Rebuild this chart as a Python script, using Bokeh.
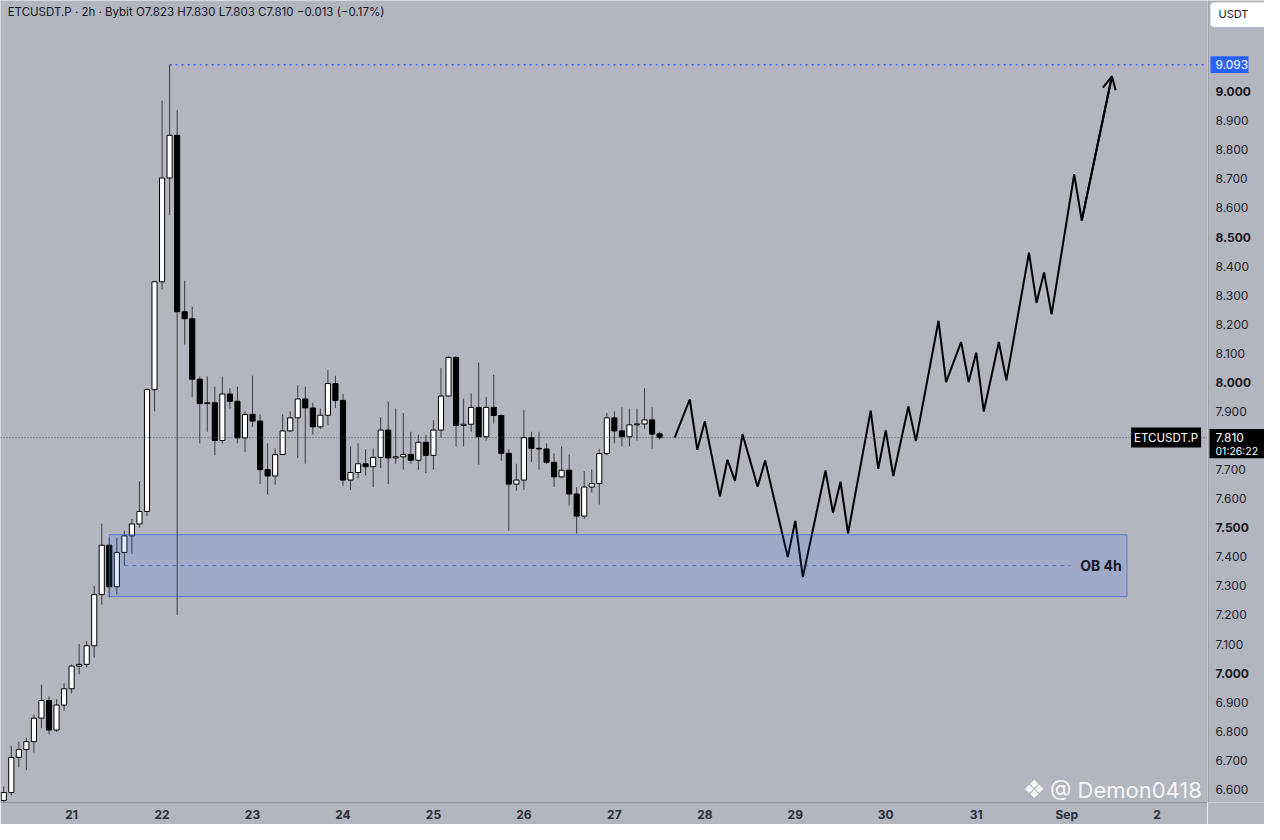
from bokeh.plotting import figure
from bokeh.layouts import row
from bokeh.models import (Range1d, LinearAxis, FixedTicker, Span, BoxAnnotation,
                          Label, Arrow, OpenHead, ColumnDataSource)
from bokeh.core.properties import value
from bokeh.embed import file_html
from bokeh.resources import INLINE

BG = "#b3b6bf"
TXT = "#131722"
FONT = "Inter"

# ---------------- data ----------------
day_ticks = [9, 21, 33, 45, 57, 69, 81, 93, 105, 117, 129, 141, 153]
day_labels = ["21", "22", "23", "24", "25", "26", "27", "28", "29", "30", "31", "Sep", "2"]

price_ticks = [6.6, 6.7, 6.8, 6.9, 7.1, 7.2, 7.3, 7.4, 7.6, 7.7, 7.8, 7.9,
               8.1, 8.2, 8.3, 8.4, 8.6, 8.7, 8.8, 8.9]
bold_ticks = [7.0, 7.5, 8.0, 8.5, 9.0]

opens = [6.562, 6.589, 6.710, 6.737, 6.764, 6.845, 6.906, 6.804, 6.890, 6.946,
         7.024, 7.030, 7.094, 7.270, 7.440, 7.297, 7.415, 7.472, 7.513, 7.556,
         7.975, 8.346, 8.703, 8.850, 8.243, 8.219, 8.011, 7.927, 7.930, 7.800,
         7.960, 7.935, 7.809, 7.890, 7.867, 7.700, 7.678, 7.752, 7.833, 7.878,
         7.943, 7.912, 7.847, 7.887, 7.996, 7.938, 7.664, 7.690, 7.720, 7.710,
         7.742, 7.836, 7.740, 7.744, 7.752, 7.732, 7.794, 7.749, 7.836, 7.953,
         8.086, 7.852, 7.856, 7.914, 7.813, 7.914, 7.886, 7.756, 7.650, 7.664,
         7.810, 7.773, 7.771, 7.725, 7.675, 7.698, 7.616, 7.540, 7.640, 7.652,
         7.755, 7.878, 7.833, 7.813, 7.854, 7.857, 7.871, 7.823]
highs = [6.610, 6.750, 6.764, 6.777, 6.858, 6.960, 6.920, 6.910, 6.965, 7.030,
         7.100, 7.110, 7.300, 7.514, 7.465, 7.465, 7.490, 7.530, 7.660, 7.980,
         8.350, 8.970, 9.093, 8.936, 8.350, 8.260, 8.020, 8.020, 7.985, 8.020,
         7.980, 7.985, 7.900, 8.023, 7.890, 7.790, 7.773, 7.890, 7.900, 7.990,
         7.985, 7.930, 7.910, 8.043, 8.023, 7.960, 7.780, 7.790, 7.770, 7.773,
         7.880, 7.934, 7.910, 7.895, 7.830, 7.820, 7.820, 7.870, 8.049, 8.090,
         8.090, 7.944, 7.962, 8.068, 7.950, 8.026, 7.890, 7.770, 7.720, 7.904,
         7.830, 7.830, 7.790, 7.756, 7.780, 7.752, 7.640, 7.695, 7.700, 7.770,
         7.895, 7.900, 7.914, 7.910, 7.910, 7.980, 7.914, 7.830]
lows = [6.555, 6.580, 6.676, 6.666, 6.727, 6.810, 6.790, 6.798, 6.870, 6.930,
        6.996, 7.020, 7.054, 7.236, 7.260, 7.270, 7.370, 7.410, 7.500, 7.540,
        7.900, 8.320, 8.575, 7.200, 8.130, 7.950, 7.790, 7.830, 7.750, 7.790,
        7.910, 7.790, 7.760, 7.847, 7.650, 7.614, 7.648, 7.750, 7.830, 7.740,
        7.720, 7.820, 7.840, 7.853, 7.912, 7.644, 7.630, 7.670, 7.680, 7.640,
        7.705, 7.650, 7.720, 7.700, 7.720, 7.700, 7.688, 7.700, 7.810, 7.950,
        7.780, 7.780, 7.830, 7.717, 7.800, 7.858, 7.730, 7.490, 7.627, 7.630,
        7.726, 7.700, 7.720, 7.640, 7.670, 7.577, 7.480, 7.530, 7.620, 7.580,
        7.750, 7.790, 7.780, 7.780, 7.800, 7.840, 7.772, 7.803]
closes = [6.589, 6.710, 6.737, 6.764, 6.845, 6.906, 6.804, 6.890, 6.946, 7.024,
          7.030, 7.094, 7.270, 7.440, 7.297, 7.415, 7.472, 7.513, 7.556, 7.975,
          8.346, 8.703, 8.850, 8.243, 8.219, 8.011, 7.927, 7.930, 7.800, 7.960,
          7.935, 7.809, 7.890, 7.867, 7.700, 7.678, 7.752, 7.833, 7.878, 7.943,
          7.912, 7.847, 7.887, 7.996, 7.938, 7.664, 7.690, 7.720, 7.710, 7.742,
          7.836, 7.740, 7.744, 7.752, 7.732, 7.794, 7.749, 7.836, 7.953, 8.086,
          7.852, 7.856, 7.914, 7.813, 7.914, 7.886, 7.756, 7.650, 7.664, 7.810,
          7.773, 7.771, 7.725, 7.675, 7.698, 7.616, 7.540, 7.640, 7.652, 7.755,
          7.878, 7.833, 7.813, 7.854, 7.857, 7.871, 7.822, 7.810]

# projected path (candle index, price)
path_x = [89, 91, 92, 93, 95, 96, 97, 98, 100, 101, 104, 105, 106, 109, 110, 111,
          112, 115, 116, 117, 118, 120, 121, 124, 125, 127, 128, 129, 130, 132,
          133, 136, 137, 138, 139, 142, 143, 147]
path_y = [7.810, 7.942, 7.768, 7.866, 7.608, 7.734, 7.661, 7.822, 7.641, 7.731,
          7.399, 7.524, 7.330, 7.697, 7.551, 7.658, 7.481, 7.903, 7.703, 7.835,
          7.678, 7.917, 7.798, 8.212, 8.001, 8.139, 8.001, 8.102, 7.900, 8.139,
          8.007, 8.446, 8.274, 8.378, 8.234, 8.716, 8.557, 9.053]

ob_start, ob_end = 14, 149
ob_top, ob_bottom = 7.476, 7.263
ob_mid_start, ob_mid_end = 16, 141.5

title_text = "ETCUSDT.P · 2h · Bybit  O7.823  H7.830  L7.803  C7.810  \u22120.013 (\u22120.17%)"
symbol = "ETCUSDT.P"
countdown = "01:26:22"
currency = "USDT"
watermark = "@ Demon0418"

# ---------------- layout constants ----------------
W_MAIN, W_SCALE, H = 1207, 57, 824
BOTTOM = 22
X0, X1 = -0.432, 159.68
Y0, Y1 = 6.5548, 9.3137
PXU = W_MAIN / (X1 - X0)            # pixels per candle index
XS1 = X1 + W_SCALE / PXU            # end of price-scale range (continuous with chart)
yr = Range1d(Y0, Y1)

# ---------------- main chart ----------------
p = figure(width=W_MAIN, height=H, x_range=Range1d(X0, X1), y_range=yr,
           output_backend="svg", toolbar_location=None,
           x_axis_location=None, y_axis_location=None,
           min_border_left=0, min_border_top=0, min_border_right=0, min_border_bottom=BOTTOM,
           background_fill_color=BG, border_fill_color=BG, outline_line_color=None)
p.grid.visible = False

xaxis = LinearAxis(ticker=FixedTicker(ticks=day_ticks),
                   major_label_overrides={t: l for t, l in zip(day_ticks, day_labels)})
xaxis.major_tick_out = 0
xaxis.major_tick_in = 0
xaxis.minor_tick_out = 0
xaxis.minor_tick_in = 0
xaxis.major_label_standoff = 4
xaxis.major_label_text_font = FONT
xaxis.major_label_text_font_size = "12px"
xaxis.major_label_text_font_style = "bold"
xaxis.major_label_text_color = "#2a2e39"
xaxis.axis_line_color = "#8c9099"
p.add_layout(xaxis, "below")

# order block
p.add_layout(BoxAnnotation(left=ob_start, right=ob_end, bottom=ob_bottom, top=ob_top,
                           fill_color="#2962ff", fill_alpha=0.14,
                           line_color="#3d5fd6", line_alpha=0.7, line_width=1))
ob_mid = (ob_top + ob_bottom) / 2
p.segment(x0=[ob_mid_start], y0=[ob_mid], x1=[ob_mid_end], y1=[ob_mid],
          line_color="#3d5fd6", line_alpha=0.7, line_width=1, line_dash="4 4")
p.add_layout(Label(x=ob_end - 0.7, y=ob_mid, text="OB 4h", text_align="right",
                   text_baseline="middle", text_font=FONT, text_font_size="14px",
                   text_font_style="bold", text_color=TXT))

# last price line
last = closes[-1]
p.add_layout(Span(location=last, dimension="width", line_color="#4a4e58",
                  line_dash="1 2", line_width=1))

# high line
hi = max(highs)
hi_idx = highs.index(hi)
p.segment(x0=[hi_idx], y0=[hi], x1=[X1 + 5], y1=[hi], line_color="#2962ff",
          line_width=1.5, line_dash="2 4")

# candles
idx = list(range(len(opens)))
src = ColumnDataSource(dict(
    x=idx, o=opens, h=highs, l=lows, c=closes,
    top=[max(o, c) for o, c in zip(opens, closes)],
    bot=[min(o, c) for o, c in zip(opens, closes)],
    fill=["#ffffff" if c >= o else "#000000" for o, c in zip(opens, closes)],
))
p.segment(x0="x", y0="l", x1="x", y1="h", source=src, line_color="#3b3b3b", line_width=1)
p.vbar(x="x", width=0.68, top="top", bottom="bot", source=src,
       fill_color="fill", line_color="#000000", line_width=1)

# projection
p.line(path_x, path_y, line_color="#000000", line_width=2)
p.add_layout(Arrow(end=OpenHead(size=13, line_width=2, line_color="#000000"),
                   x_start=path_x[-2], y_start=path_y[-2],
                   x_end=path_x[-1], y_end=path_y[-1],
                   line_color="#000000", line_width=2))

# title
p.add_layout(Label(x=X0 + 0.95, y=9.273, text=title_text, text_align="left",
                   text_baseline="middle", text_font=FONT, text_font_size="11.5px",
                   text_color=TXT))

# symbol label on price line
p.add_layout(Label(x=X1 - 0.85, y=last, text=symbol, text_align="right",
                   text_baseline="middle", text_font=FONT, text_font_size="11.5px",
                   text_color="#ffffff", background_fill_color="#000000", padding=3))

# watermark (kept inside the chart frame)
p.text(x=[135.2], y=[6.598], text=["\u2756"], text_align="left",
       text_baseline="middle", text_font=value("DejaVu Sans"),
       text_font_size="25px", text_color="#ffffff", text_alpha=0.9)
p.text(x=[138.8], y=[6.598], text=[watermark], text_align="left",
       text_baseline="middle", text_font=value(FONT),
       text_font_size="22px", text_color="#ffffff", text_alpha=0.9)

# ---------------- price scale (continuous with the chart's x scale) ----------------
s = figure(width=W_SCALE, height=H, x_range=Range1d(X1, XS1), y_range=yr,
           output_backend="svg", toolbar_location=None,
           x_axis_location=None, y_axis_location=None,
           min_border_left=0, min_border_top=0, min_border_right=0, min_border_bottom=BOTTOM,
           background_fill_color=BG, border_fill_color=BG, outline_line_color=None)
s.grid.visible = False

u = 1.0 / PXU   # one pixel in x data units
s.segment(x0=[X1 + 0.5 * u], y0=[Y0], x1=[X1 + 0.5 * u], y1=[Y1],
          line_color="#8c9099", line_width=1)

LX = X1 + 8 * u
s.text(x=[LX] * len(price_ticks), y=price_ticks, text=[f"{t:.3f}" for t in price_ticks],
       text_align="left", text_baseline="middle", text_font=value(FONT),
       text_font_size="12px", text_color="#1e222d")
s.text(x=[LX] * len(bold_ticks), y=bold_ticks, text=[f"{t:.3f}" for t in bold_ticks],
       text_align="left", text_baseline="middle", text_font=value(FONT),
       text_font_size="12px", text_font_style="bold", text_color=TXT)

# high price box
s.quad(left=[X1 + 3 * u], right=[X1 + 41 * u], top=[hi + 0.029], bottom=[hi - 0.029],
       fill_color="#2962ff", line_color=None)
s.text(x=[LX], y=[hi], text=[f"{hi:.3f}"], text_align="left", text_baseline="middle",
       text_font=value(FONT), text_font_size="12px", text_color="#ffffff")

# last price box with countdown
s.quad(left=[X1 + 2 * u], right=[XS1 + 1], top=[last + 0.030], bottom=[last - 0.071],
       fill_color="#000000", line_color=None)
s.text(x=[LX], y=[last], text=[f"{last:.3f}"], text_align="left", text_baseline="middle",
       text_font=value(FONT), text_font_size="12px", text_color="#ffffff")
s.text(x=[LX], y=[last - 0.0475], text=[countdown], text_align="left",
       text_baseline="middle", text_font=value(FONT), text_font_size="10.5px",
       text_color="#ffffff")

# currency box
s.quad(left=[X1 + 3 * u], right=[XS1 + 1], top=[9.307], bottom=[9.2226],
       fill_color="#ffffff", line_color=None, border_radius=4)
s.text(x=[X1 + 11 * u], y=[9.2664], text=[currency], text_align="left",
       text_baseline="middle", text_font=value(FONT), text_font_size="11px",
       text_color=TXT)

layout = row(p, s)
open("out.html", "w").write(file_html(layout, INLINE))
